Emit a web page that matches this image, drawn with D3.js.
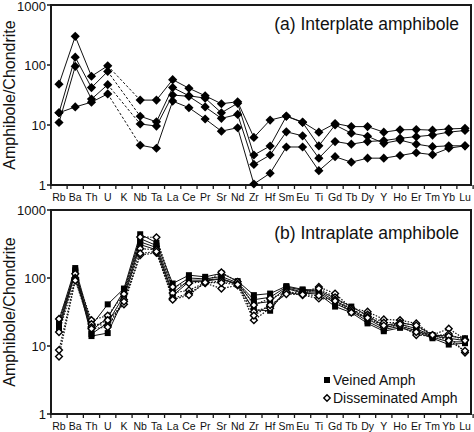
<!DOCTYPE html>
<html>
<head>
<meta charset="utf-8">
<script src="https://cdnjs.cloudflare.com/ajax/libs/d3/7.8.5/d3.min.js"></script>
<style>
  body { margin: 0; background: #fff; }
  svg text { font-family: Arial, "Liberation Sans", sans-serif; fill: #111; }
</style>
</head>
<body>
<svg id="chart" width="474" height="432"></svg>
<script>
// element order along the x axis
var elements = ["Rb","Ba","Th","U","K","Nb","Ta","La","Ce","Pr","Sr","Nd","Zr","Hf","Sm","Eu","Ti","Gd","Tb","Dy","Y","Ho","Er","Tm","Yb","Lu"];
var yTicks = [1, 10, 100, 1000];

// (a) interplate amphibole, K not analysed (null)
var interA = [48, 300, 65, 97, null, 26, 26, 57, 41, 30.7, 22.6, 24.4, 6.2, 12.1, 14.1, 11.2, 7.6, 10.6, 9.4, 9.4, 7.6, 8.3, 8.4, 8.2, 8.6, 8.8];
var interB = [16, 135, 42, 78, null, 14, 11.3, 42, 30.7, 28, 16, 23, 3.16, 4.47, 14, 11, 4.5, 10, 7.3, 6.5, 4.95, 5.6, 4.8, 4.35, 4.5, 4.5];
var interC = [11, 95, 27, 47, null, 10.4, 9.6, 31.6, 30, 20, 12.9, 15, 2.2, 3.16, 7.7, 6.6, 2.8, 5.3, 4.8, 5.3, 5.5, 6.0, 6.4, 6.8, 7.6, 8.1];
var interD = [16, 20, 24, 33, null, 4.6, 4.1, 25, 19.4, 12.6, 7.9, 9, 1.04, 1.57, 4.3, 4.3, 1.73, 2.96, 2.4, 2.8, 2.8, 3.1, 3.45, 3.2, 4.1, 4.5];

// (b) intraplate amphibole
var veined1 = [24, 140, 20, 41, 70, 440, 330, 83, 110, 104, 117, 90, 56, 59, 76, 68, 66, 50, 38, 28, 20, 22, 20, 14.5, 14, 13];
var veined2 = [21, 130, 17, 26, 65, 380, 300, 70, 100, 97, 105, 85, 48, 52, 74, 66, 64, 46, 35, 25, 18.5, 21, 18, 14, 13, 12];
var veined3 = [19, 125, 15, 22, 55, 340, 280, 60, 93, 93, 98, 82, 42, 45, 72, 62, 62, 42, 33, 23, 17.5, 19.5, 17, 13.5, 11.5, 11.5];
var veined4 = [17, 120, 14, 15.5, 50, 310, 260, 55, 88, 90, 97, 80, 34, 33, 70, 60, 58, 38, 31, 21.5, 16.5, 18.5, 16, 13, 10.5, 11];
var dissem1 = [25, 115, 24, 28, 58, 400, 396, 74, 84, 88, 121, 88, 40, 50, 62, 60, 74, 59, 36, 32, 24.6, 24, 21.5, 14.5, 18, 12.5];
var dissem2 = [16, 100, 21, 20, 48, 270, 260, 60, 66, 85, 90, 82, 32, 38, 60, 58, 70, 52, 34, 29, 22, 22, 20, 14, 15, 12];
var dissem3 = [8.7, 95, 19, 24, 41, 217, 235, 50, 59, 84, 70, 78, 24, 36, 62, 56, 50, 48, 32, 27, 19, 20, 14.5, 14, 14, 8];
var dissem4 = [7, 92, 18, 19, 45, 230, 245, 48, 56, 86, 85, 80, 28, 40, 58, 57, 55, 46, 31, 26, 20, 21, 16, 14.5, 12, 8.5];

var svg = d3.select("#chart");
var LEFT = 51, RIGHT = 471;

var x = d3.scalePoint().domain(elements).range([59, 465]);

function diamondPath(r) {
    return "M0," + (-r) + "L" + r + ",0L0," + r + "L" + (-r) + ",0Z";
}

function makePanel(top, bottom, title, titleY) {
    var g = svg.append("g");
    var y = d3.scaleLog().domain([1, 1000]).range([bottom, top]);

    // frame
    g.append("rect")
        .attr("x", LEFT).attr("y", top)
        .attr("width", RIGHT - LEFT).attr("height", bottom - top)
        .attr("fill", "none").attr("stroke", "#1a1a1a").attr("stroke-width", 2);

    // y ticks + labels (keep the top label inside the page)
    yTicks.forEach(function (t) {
        g.append("line")
            .attr("x1", LEFT - 4).attr("x2", LEFT)
            .attr("y1", y(t)).attr("y2", y(t))
            .attr("stroke", "#1a1a1a").attr("stroke-width", 1.5);
        g.append("text")
            .attr("x", LEFT - 5).attr("y", Math.max(y(t), 6.5))
            .attr("dy", "0.36em")
            .attr("text-anchor", "end")
            .style("font-size", "13px")
            .text(t);
    });

    // x ticks sit between the elements
    var step = x.step();
    elements.concat(["_end"]).forEach(function (e, i) {
        var xt = x(elements[0]) - step / 2 + i * step;
        g.append("line")
            .attr("x1", xt).attr("x2", xt)
            .attr("y1", bottom).attr("y2", bottom + 4)
            .attr("stroke", "#1a1a1a").attr("stroke-width", 1.3);
    });
    elements.forEach(function (e) {
        g.append("text")
            .attr("x", x(e)).attr("y", bottom + 15.5)
            .attr("text-anchor", "middle")
            .style("font-size", "10.5px")
            .text(e);
    });

    // axis title
    g.append("text")
        .attr("transform", "translate(15," + ((top + bottom) / 2) + ") rotate(-90)")
        .attr("text-anchor", "middle")
        .style("font-size", "16px")
        .text("Amphibole/Chondrite");

    g.append("text")
        .attr("x", 459).attr("y", titleY)
        .attr("text-anchor", "end")
        .style("font-size", "17.5px")
        .text(title);

    return { g: g, y: y };
}

function toPoints(vals) {
    return vals.map(function (v, i) { return { e: elements[i], v: v }; });
}

function drawSeries(p, vals, opts) {
    var y = p.y;
    var pts = toPoints(vals);
    var line = d3.line()
        .defined(function (d) { return d.v != null; })
        .x(function (d) { return x(d.e); })
        .y(function (d) { return y(d.v); });

    p.g.append("path")
        .datum(pts)
        .attr("d", line)
        .attr("fill", "none")
        .attr("stroke", "#111")
        .attr("stroke-width", opts.width)
        .attr("stroke-dasharray", opts.dash || null);

    // bridge missing values with a dashed segment
    var known = pts.filter(function (d) { return d.v != null; });
    for (var i = 1; i < known.length; i++) {
        if (elements.indexOf(known[i].e) - elements.indexOf(known[i - 1].e) > 1) {
            p.g.append("line")
                .attr("x1", x(known[i - 1].e)).attr("y1", y(known[i - 1].v))
                .attr("x2", x(known[i].e)).attr("y2", y(known[i].v))
                .attr("stroke", "#111").attr("stroke-width", 1)
                .attr("stroke-dasharray", "2.5,2");
        }
    }
    return known;
}

function drawMarkers(p, known, kind) {
    var y = p.y;
    var sel = p.g.selectAll(null).data(known).enter();
    if (kind === "diamond") {
        sel.append("path")
            .attr("d", diamondPath(4.6))
            .attr("transform", function (d) { return "translate(" + x(d.e) + "," + y(d.v) + ")"; })
            .attr("fill", "#000");
    } else if (kind === "square") {
        sel.append("rect")
            .attr("x", function (d) { return x(d.e) - 3; })
            .attr("y", function (d) { return y(d.v) - 3; })
            .attr("width", 6).attr("height", 6)
            .attr("fill", "#000");
    } else {
        sel.append("path")
            .attr("d", diamondPath(3.4))
            .attr("transform", function (d) { return "translate(" + x(d.e) + "," + y(d.v) + ")"; })
            .attr("fill", "#fff").attr("stroke", "#000").attr("stroke-width", 1.4);
    }
}

// panel (a)
var pa = makePanel(5, 185, "(a) Interplate amphibole", 30);
[interA, interB, interC, interD].forEach(function (s) {
    var k = drawSeries(pa, s, { width: 1 });
    drawMarkers(pa, k, "diamond");
});

// panel (b)
var pb = makePanel(210, 414, "(b) Intraplate amphibole", 239);
var vk = [veined1, veined2, veined3, veined4].map(function (s) {
    return drawSeries(pb, s, { width: 1 });
});
var dk = [dissem1, dissem2, dissem3, dissem4].map(function (s) {
    return drawSeries(pb, s, { width: 1.2, dash: "1.5,1.5" });
});
vk.forEach(function (k) { drawMarkers(pb, k, "square"); });
dk.forEach(function (k) { drawMarkers(pb, k, "open"); });

// legend
var leg = pb.g.append("g").attr("transform", "translate(327,0)");
leg.append("rect").attr("x", -3).attr("y", 377).attr("width", 6).attr("height", 6).attr("fill", "#000");
leg.append("text").attr("x", 6).attr("y", 385).style("font-size", "14px").text("Veined Amph");
leg.append("path").attr("d", diamondPath(3.2)).attr("transform", "translate(0,398)")
    .attr("fill", "#fff").attr("stroke", "#000").attr("stroke-width", 1.4);
leg.append("text").attr("x", 6).attr("y", 403).style("font-size", "14px").text("Disseminated Amph");
</script>
</body>
</html>
